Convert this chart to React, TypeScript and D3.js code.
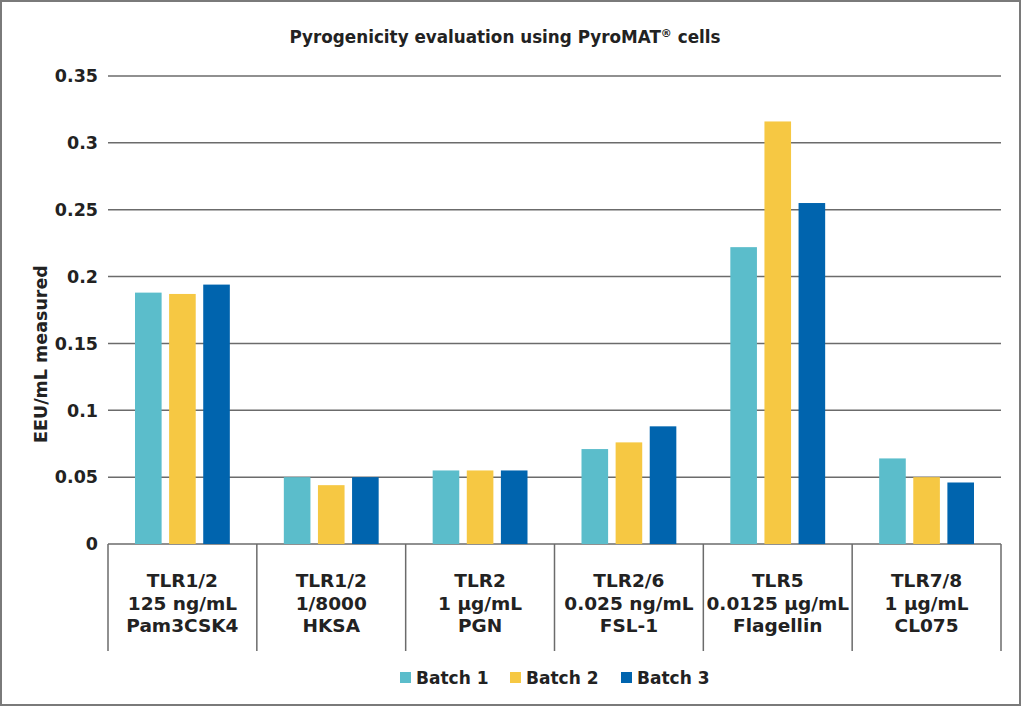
import React, { useEffect, useRef } from 'react';
import * as d3 from 'd3';

const categories = ['TLR1/2', 'TLR1/2 HKSA', 'TLR2', 'TLR2/6', 'TLR5', 'TLR7/8'];
const categoryLines: string[][] = [
  ['TLR1/2', '125 ng/mL', 'Pam3CSK4'],
  ['TLR1/2', '1/8000', 'HKSA'],
  ['TLR2', '1 µg/mL', 'PGN'],
  ['TLR2/6', '0.025 ng/mL', 'FSL-1'],
  ['TLR5', '0.0125 µg/mL', 'Flagellin'],
  ['TLR7/8', '1 µg/mL', 'CL075'],
];
const seriesNames = ['Batch 1', 'Batch 2', 'Batch 3'];
const batch1 = [0.188, 0.05, 0.055, 0.071, 0.222, 0.064];
const batch2 = [0.187, 0.044, 0.055, 0.076, 0.316, 0.05];
const batch3 = [0.194, 0.05, 0.055, 0.088, 0.255, 0.046];
const yTicks = [0, 0.05, 0.1, 0.15, 0.2, 0.25, 0.3, 0.35];
const yTickLabels = ['0', '0.05', '0.1', '0.15', '0.2', '0.25', '0.3', '0.35'];
const colors = ['#5bbdcb', '#f6c843', '#0064ae'];

const W = 1024;
const H = 708;

const App: React.FC = () => {
  const ref = useRef<SVGSVGElement>(null);

  useEffect(() => {
    document.body.style.margin = '0';
    if (!ref.current) return;
    const svg = d3.select(ref.current);
    svg.selectAll('*').remove();

    const font = '"DejaVu Sans", Verdana, sans-serif';
    const left = 108;
    const right = 1001;
    const top = 76;
    const bottom = 544;

    // frame
    svg.append('rect')
      .attr('x', 1).attr('y', 1)
      .attr('width', 1019).attr('height', 704)
      .attr('fill', '#fff')
      .attr('stroke', '#7a7a7a')
      .attr('stroke-width', 2);

    const x = d3.scaleBand<string>().domain(categories).range([left, right]);
    const inner = d3.scaleBand<string>()
      .domain(seriesNames)
      .range([27, x.bandwidth() - 27])
      .paddingInner(0.22);
    const y = d3.scaleLinear().domain([0, 0.35]).range([bottom, top]);

    // gridlines
    svg.append('g')
      .selectAll('line')
      .data(yTicks)
      .enter()
      .append('line')
      .attr('x1', left)
      .attr('x2', right)
      .attr('y1', d => y(d))
      .attr('y2', d => y(d))
      .attr('stroke', '#6b6b6b')
      .attr('stroke-width', 1.5);

    // y tick labels
    svg.append('g')
      .selectAll('text')
      .data(yTicks)
      .enter()
      .append('text')
      .attr('x', 98)
      .attr('y', d => y(d))
      .attr('dy', '0.36em')
      .attr('text-anchor', 'end')
      .style('font-family', font)
      .style('font-weight', 'bold')
      .style('font-size', '17.5px')
      .attr('fill', '#222')
      .text((d, i) => yTickLabels[i]);

    // category separators
    const bounds = categories.map(c => x(c) as number).concat([right]);
    svg.append('g')
      .selectAll('line')
      .data(bounds)
      .enter()
      .append('line')
      .attr('x1', d => d)
      .attr('x2', d => d)
      .attr('y1', bottom)
      .attr('y2', 651)
      .attr('stroke', '#6b6b6b')
      .attr('stroke-width', 1.5);

    // bars
    const series = [batch1, batch2, batch3];
    series.forEach((vals, si) => {
      svg.append('g')
        .selectAll('rect')
        .data(vals)
        .enter()
        .append('rect')
        .attr('x', (d, i) => (x(categories[i]) as number) + (inner(seriesNames[si]) as number))
        .attr('y', d => y(d))
        .attr('width', inner.bandwidth())
        .attr('height', d => bottom - y(d))
        .attr('fill', colors[si]);
    });

    // category labels
    categoryLines.forEach((lines, i) => {
      const cx = (x(categories[i]) as number) + x.bandwidth() / 2;
      const t = svg.append('text')
        .attr('text-anchor', 'middle')
        .style('font-family', font)
        .style('font-weight', 'bold')
        .style('font-size', '18.5px')
        .attr('fill', '#222');
      lines.forEach((l, j) => {
        t.append('tspan')
          .attr('x', cx)
          .attr('y', 587 + j * 22.5)
          .text(l);
      });
    });

    // title
    const title = svg.append('text')
      .attr('x', 505)
      .attr('y', 43)
      .attr('text-anchor', 'middle')
      .style('font-family', font)
      .style('font-weight', 'bold')
      .style('font-size', '16.8px')
      .attr('fill', '#222');
    title.append('tspan').text('Pyrogenicity evaluation using PyroMAT');
    title.append('tspan').attr('dy', -6).style('font-size', '11px').text('®');
    title.append('tspan').attr('dy', 6).text(' cells');

    // y axis label
    svg.append('text')
      .attr('transform', `translate(47,354) rotate(-90)`)
      .attr('text-anchor', 'middle')
      .style('font-family', font)
      .style('font-weight', 'bold')
      .style('font-size', '17.5px')
      .attr('fill', '#222')
      .text('EEU/mL measured');

    // legend
    const legendX = [400, 510, 621];
    const lg = svg.append('g');
    seriesNames.forEach((s, i) => {
      lg.append('rect')
        .attr('x', legendX[i])
        .attr('y', 672)
        .attr('width', 11)
        .attr('height', 11)
        .attr('fill', colors[i]);
      lg.append('text')
        .attr('x', legendX[i] + 16)
        .attr('y', 684)
        .style('font-family', font)
        .style('font-weight', 'bold')
        .style('font-size', '17px')
        .attr('fill', '#222')
        .text(s);
    });
  }, []);

  return <svg ref={ref} width={W} height={H} style={{ display: 'block' }} />;
};

export default App;
